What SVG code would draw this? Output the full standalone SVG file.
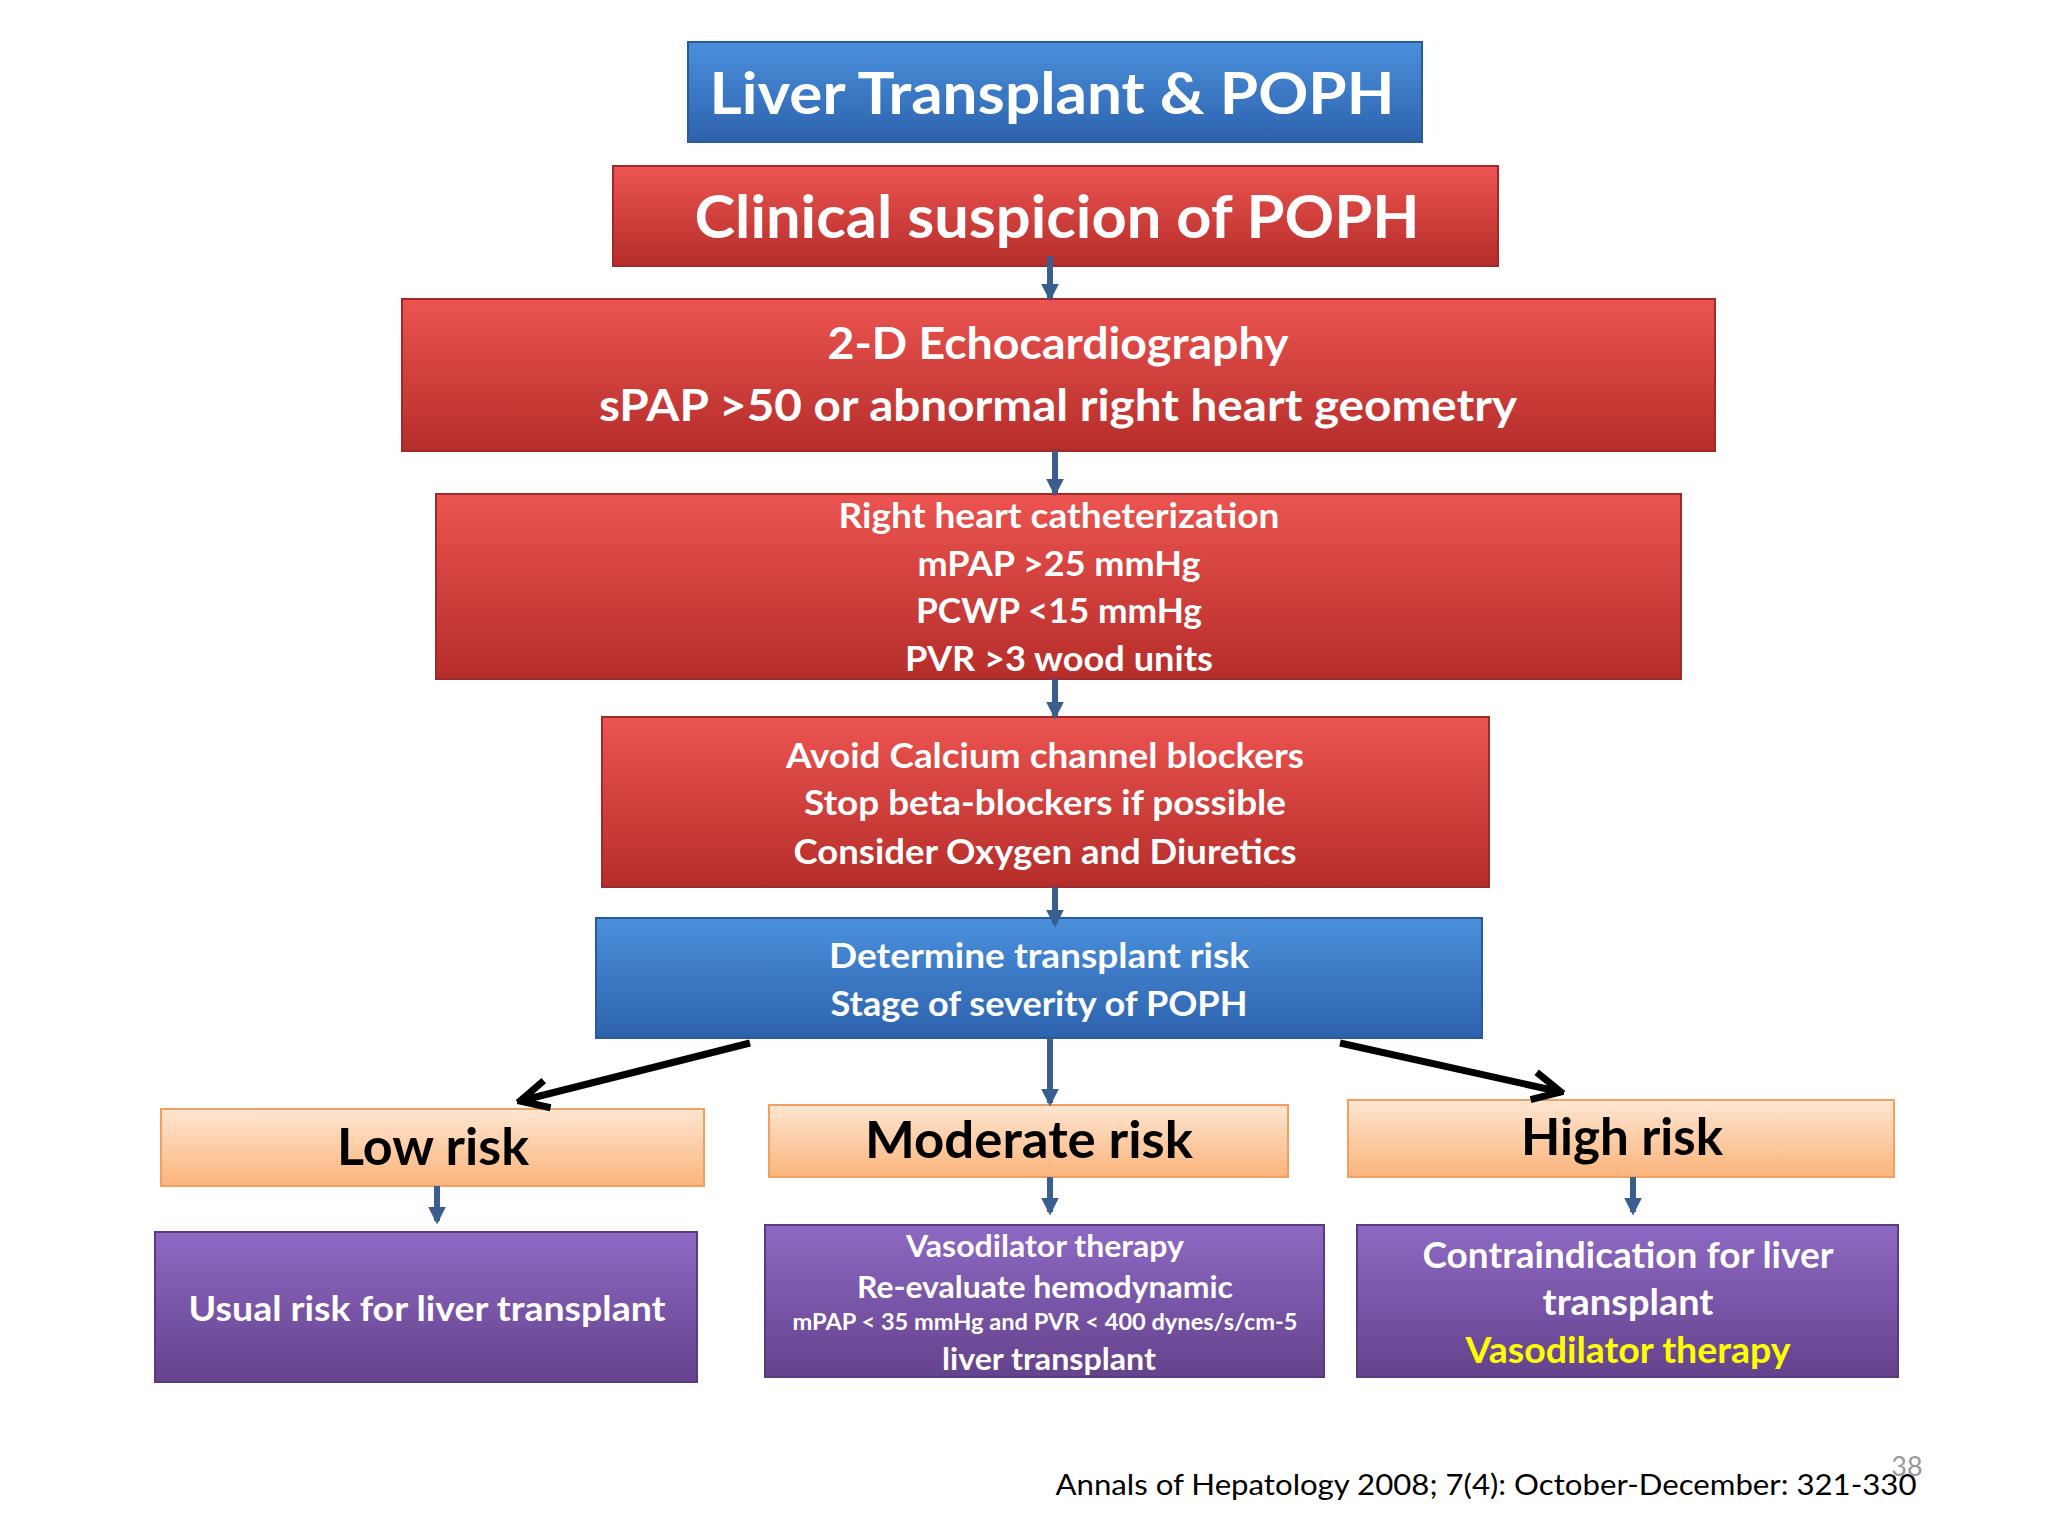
<svg xmlns="http://www.w3.org/2000/svg" width="2048" height="1536" viewBox="0 0 2048 1536">
<defs>
<linearGradient id="red" x1="0" y1="0" x2="0" y2="1"><stop offset="0" stop-color="#ec5450"/><stop offset="1" stop-color="#b52d2a"/></linearGradient>
<linearGradient id="blue" x1="0" y1="0" x2="0" y2="1"><stop offset="0" stop-color="#4a90dc"/><stop offset="1" stop-color="#2d62ad"/></linearGradient>
<linearGradient id="org" x1="0" y1="0" x2="0" y2="1"><stop offset="0" stop-color="#fde6d2"/><stop offset="1" stop-color="#fbb47a"/></linearGradient>
<linearGradient id="pur" x1="0" y1="0" x2="0" y2="1"><stop offset="0" stop-color="#8e69c4"/><stop offset="1" stop-color="#65428c"/></linearGradient>
<marker id="bh" viewBox="0 0 10 10" refX="8" refY="5" markerWidth="3" markerHeight="3" orient="auto"><path d="M0,0 L10,5 L0,10 z" fill="#3a5f8f"/></marker>
<marker id="kh" viewBox="0 0 10 10" refX="9" refY="5" markerWidth="5" markerHeight="5" orient="auto"><path d="M1,1 L9,5 L1,9" fill="none" stroke="#000" stroke-width="2"/></marker>
</defs>
<style>
text{font-family:Lato,"Open Sans",sans-serif;font-weight:bold;text-anchor:middle}
.w{fill:#fff}.k{fill:#000}
.r{fill:url(#red);stroke:#a02a27;stroke-width:2}
.b{fill:url(#blue);stroke:#2a5a9a;stroke-width:2}
.o{fill:url(#org);stroke:#f0a060;stroke-width:2}
.p{fill:url(#pur);stroke:#5a3a80;stroke-width:2}
.ba{stroke:#3a5f8f;stroke-width:6;marker-end:url(#bh)}
.ka{stroke:#000;stroke-width:7;fill:none;marker-end:url(#kh)}
</style>
<rect width="2048" height="1536" fill="#fff"/>
<g id="title"><rect class="b" x="688" y="42" width="734" height="100"/><text class="w" x="1052" y="114" font-size="58" textLength="685" lengthAdjust="spacingAndGlyphs">Liver Transplant &amp; POPH</text></g>
<g id="clinical"><rect class="r" x="613" y="166" width="885" height="100"/><text class="w" x="1057" y="238" font-size="60" textLength="725" lengthAdjust="spacingAndGlyphs">Clinical suspicion of POPH</text></g>
<g id="echo"><rect class="r" x="402" y="299" width="1313" height="152"/><text class="w" x="1058" y="359" font-size="44" textLength="461" lengthAdjust="spacingAndGlyphs">2-D Echocardiography</text><text class="w" x="1058" y="421" font-size="44" textLength="918" lengthAdjust="spacingAndGlyphs">sPAP &gt;50 or abnormal right heart geometry</text></g>
<g id="rhc"><rect class="r" x="436" y="494" width="1245" height="185"/>
<text class="w" x="1059" y="528" font-size="35" textLength="441" lengthAdjust="spacingAndGlyphs">Right heart catheterization</text>
<text class="w" x="1059" y="576" font-size="35" textLength="283" lengthAdjust="spacingAndGlyphs">mPAP &gt;25 mmHg</text>
<text class="w" x="1059" y="623" font-size="35" textLength="286" lengthAdjust="spacingAndGlyphs">PCWP &lt;15 mmHg</text>
<text class="w" x="1059" y="671" font-size="35" textLength="308" lengthAdjust="spacingAndGlyphs">PVR &gt;3 wood units</text></g>
<g id="avoid"><rect class="r" x="602" y="717" width="887" height="170"/>
<text class="w" x="1045" y="768" font-size="35" textLength="518" lengthAdjust="spacingAndGlyphs">Avoid Calcium channel blockers</text>
<text class="w" x="1045" y="815" font-size="35" textLength="482" lengthAdjust="spacingAndGlyphs">Stop beta-blockers if possible</text>
<text class="w" x="1045" y="864" font-size="35" textLength="503" lengthAdjust="spacingAndGlyphs">Consider Oxygen and Diuretics</text></g>
<g id="determine"><rect class="b" x="596" y="918" width="886" height="120"/>
<text class="w" x="1039" y="968" font-size="35" textLength="420" lengthAdjust="spacingAndGlyphs">Determine transplant risk</text>
<text class="w" x="1039" y="1016" font-size="35" textLength="417" lengthAdjust="spacingAndGlyphs">Stage of severity of POPH</text></g>
<g id="low"><rect class="o" x="161" y="1109" width="543" height="77"/><text class="k" x="433" y="1165" font-size="52" textLength="192" lengthAdjust="spacingAndGlyphs">Low risk</text></g>
<g id="moderate"><rect class="o" x="769" y="1105" width="519" height="72"/><text class="k" x="1029" y="1158" font-size="52" textLength="328" lengthAdjust="spacingAndGlyphs">Moderate risk</text></g>
<g id="high"><rect class="o" x="1348" y="1100" width="546" height="77"/><text class="k" x="1622" y="1155" font-size="52" textLength="202" lengthAdjust="spacingAndGlyphs">High risk</text></g>
<g id="usual"><rect class="p" x="155" y="1232" width="542" height="150"/><text class="w" x="427" y="1321" font-size="35" textLength="477" lengthAdjust="spacingAndGlyphs">Usual risk for liver transplant</text></g>
<g id="vaso"><rect class="p" x="765" y="1225" width="559" height="152"/>
<text class="w" x="1045" y="1257" font-size="30" textLength="278" lengthAdjust="spacingAndGlyphs">Vasodilator therapy</text>
<text class="w" x="1045" y="1298" font-size="30" textLength="376" lengthAdjust="spacingAndGlyphs">Re-evaluate hemodynamic</text>
<text class="w" x="1045" y="1330" font-size="22" textLength="505" lengthAdjust="spacingAndGlyphs">mPAP &lt; 35 mmHg and  PVR &lt; 400 dynes/s/cm-5</text>
<text class="w" x="1049" y="1370" font-size="30" textLength="214" lengthAdjust="spacingAndGlyphs">liver transplant</text></g>
<g id="contra"><rect class="p" x="1357" y="1225" width="541" height="152"/>
<text class="w" x="1628" y="1268" font-size="36" textLength="411" lengthAdjust="spacingAndGlyphs">Contraindication for liver</text>
<text class="w" x="1628" y="1315" font-size="36" textLength="171" lengthAdjust="spacingAndGlyphs">transplant</text>
<text x="1628" y="1363" font-size="36" fill="#ffff00" textLength="325" lengthAdjust="spacingAndGlyphs">Vasodilator therapy</text></g>
<g id="connectors">
<line class="ba" x1="1050" y1="256" x2="1050" y2="298"/>
<line class="ba" x1="1055" y1="451" x2="1055" y2="493"/>
<line class="ba" x1="1055" y1="679" x2="1055" y2="716"/>
<line class="ba" x1="1055" y1="887" x2="1055" y2="924"/>
<line class="ba" x1="1050" y1="1038" x2="1050" y2="1103"/>
<line class="ba" x1="437" y1="1186" x2="437" y2="1221"/>
<line class="ba" x1="1050" y1="1177" x2="1050" y2="1212"/>
<line class="ba" x1="1633" y1="1177" x2="1633" y2="1212"/>
<line class="ka" x1="750" y1="1043" x2="520" y2="1101"/>
<line class="ka" x1="1340" y1="1043" x2="1561" y2="1092"/>
</g>
<text x="1486" y="1495" font-size="29" font-weight="normal" fill="#000" style="font-weight:normal" textLength="861" lengthAdjust="spacingAndGlyphs">Annals of Hepatology 2008; 7(4): October-December: 321-330</text>
<text x="1907" y="1476" font-size="27" fill="#999" style="font-weight:normal">38</text>
</svg>
